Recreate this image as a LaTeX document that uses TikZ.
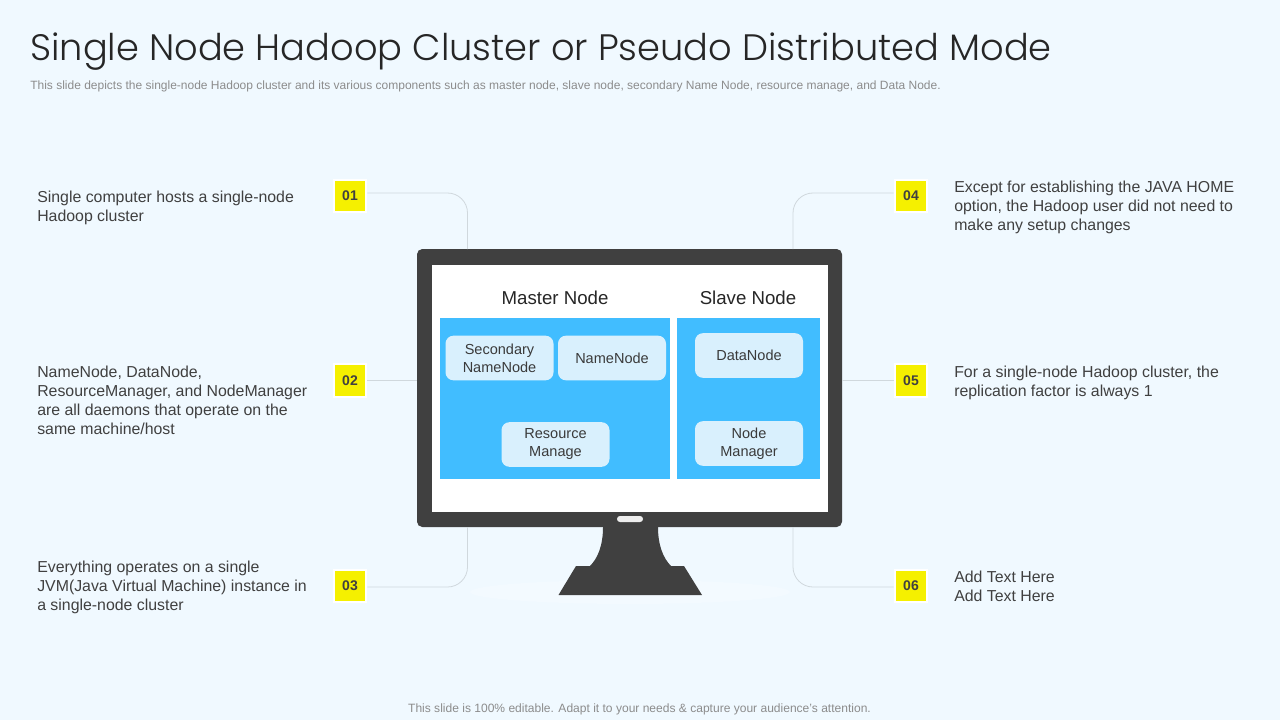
\documentclass[tikz,border=0pt]{standalone}
\usepackage{fontspec}
\setmainfont{Liberation Sans}
\newfontfamily\titlefont{Poppins Light}
\definecolor{pagebg}{HTML}{F0F9FF}
\definecolor{darkgrey}{HTML}{404040}
\definecolor{bodygrey}{HTML}{404040}
\definecolor{notegrey}{HTML}{8C8C8C}
\definecolor{panelblue}{HTML}{41BDFF}
\definecolor{cellblue}{HTML}{D9F0FD}
\definecolor{badgeyellow}{HTML}{F5F000}
\definecolor{linegrey}{HTML}{D0D8DD}
\tikzset{
  bodytext/.style={anchor=north west, align=left, font=\fontsize{11.9}{14.25}\selectfont, text=bodygrey, inner sep=0pt},
  numbadge/.style={draw=white, line width=1.5pt, fill=badgeyellow, minimum size=24.5pt, inner sep=0pt, font=\fontsize{10.5}{12}\selectfont\bfseries, text=darkgrey},
  panelhead/.style={font=\fontsize{14}{16}\selectfont, text=black!85},
  cellbox/.style={fill=cellblue, rounded corners=6pt, align=center, inner sep=0pt, minimum width=81pt, minimum height=33.5pt, font=\fontsize{10.9}{13.5}\selectfont, text=darkgrey!90!black},
  linkline/.style={draw=linegrey, line width=0.6pt, rounded corners=15pt},
  panelbox/.style={fill=panelblue, inner sep=0pt}
}
\begin{document}
\begin{tikzpicture}[x=0.75pt,y=-0.75pt]
\useasboundingbox (0,0) rectangle (1280,720);
\fill[pagebg] (0,0) rectangle (1280,720);

% Title and notes
\node[anchor=west, inner sep=0pt, font=\fontsize{27.6}{32}\titlefont, text=black!85] (title) at (30,52) {Single Node Hadoop Cluster or Pseudo Distributed Mode};
\node[anchor=west, inner sep=0pt, font=\fontsize{9}{11}\selectfont, text=notegrey] (subtitle) at (30,86) {This slide depicts the single-node Hadoop cluster and its various components such as master node, slave node, secondary Name Node, resource manage, and Data Node.};
\node[inner sep=0pt, font=\fontsize{9.03}{11}\selectfont, text=notegrey] (footnote) at (639.5,709.5) {This slide is 100\% editable. Adapt it to your needs \& capture your audience’s attention.};

% Glow under the stand
\fill[white, opacity=0.2] (630,592) ellipse (160 and 12);

% Number badges
\node[numbadge] (num1) at (350,196) {01};
\node[numbadge] (num2) at (350,380.5) {02};
\node[numbadge] (num3) at (350,586) {03};
\node[numbadge] (num4) at (911,196) {04};
\node[numbadge] (num5) at (911,380.5) {05};
\node[numbadge] (num6) at (911,586) {06};

% Monitor body
\node[fill=darkgrey, rounded corners=4pt, inner sep=0pt, minimum width=318.75pt, minimum height=208.5pt] (monitor) at (629.5,388) {};
\node[fill=white, inner sep=0pt, minimum width=297pt, minimum height=185.25pt] (screen) at (630,388.5) {};
\coordinate (topleft) at (467.5,249);
\coordinate (topright) at (793,249);
\coordinate (botleft) at (467.5,527);
\coordinate (botright) at (793,527);

% Connectors
\draw[linkline] (num1.east |- 0,193) -- (topleft |- 0,193) -- (topleft);
\draw[linkline] (num2.east) -- (num2.east -| monitor.west);
\draw[linkline] (num3.east |- 0,587) -- (botleft |- 0,587) -- (botleft);
\draw[linkline] (num4.west |- 0,193) -- (topright |- 0,193) -- (topright);
\draw[linkline] (num5.west) -- (num5.west -| monitor.east);
\draw[linkline] (num6.west |- 0,587) -- (botright |- 0,587) -- (botright);

% Stand
\fill[darkgrey] (603,527) .. controls (603,545) and (598,558) .. (590,566) -- (576,566) -- (558.5,595) -- (702,595) -- (684,566) -- (671,566) .. controls (663,558) and (658,545) .. (658,527) -- cycle;
\fill[white!93!black, rounded corners=2.2pt] (617,516) rectangle (643,522);

% Panels
\node[panelhead] (masterhead) at (555,297.5) {Master Node};
\node[panelhead] (slavehead) at (748,297.5) {Slave Node};
\node[panelbox, minimum width=172.5pt, minimum height=120.75pt] (masterpanel) at (555,398.5) {};
\node[panelbox, minimum width=107.25pt, minimum height=120.75pt] (slavepanel) at (748.5,398.5) {};

% Cells
\node[cellbox] (secondary) at (499.5,358) {Secondary\\NameNode};
\node[cellbox] (namenode) at (612,358) {NameNode};
\node[cellbox] (resource) at (555.5,444.5) {Resource\\Manage};
\node[cellbox] (datanode) at (749,355.5) {DataNode};
\node[cellbox] (nodemanager) at (749,443.5) {Node\\Manager};

% Side texts
\node[bodytext] (text1) at (37,191) {Single computer hosts a single-node\\Hadoop cluster};
\node[bodytext] (text2) at (37,366) {NameNode, DataNode,\\ResourceManager, and NodeManager\\are all daemons that operate on the\\same machine/host};
\node[bodytext] (text3) at (37,561) {Everything operates on a single\\JVM(Java Virtual Machine) instance in\\a single-node cluster};
\node[bodytext] (text4) at (954,181) {Except for establishing the JAVA HOME\\option, the Hadoop user did not need to\\make any setup changes};
\node[bodytext] (text5) at (954,366) {For a single-node Hadoop cluster, the\\replication factor is always 1};
\node[bodytext] (text6) at (954,571) {Add Text Here\\Add Text Here};
\end{tikzpicture}
\end{document}
